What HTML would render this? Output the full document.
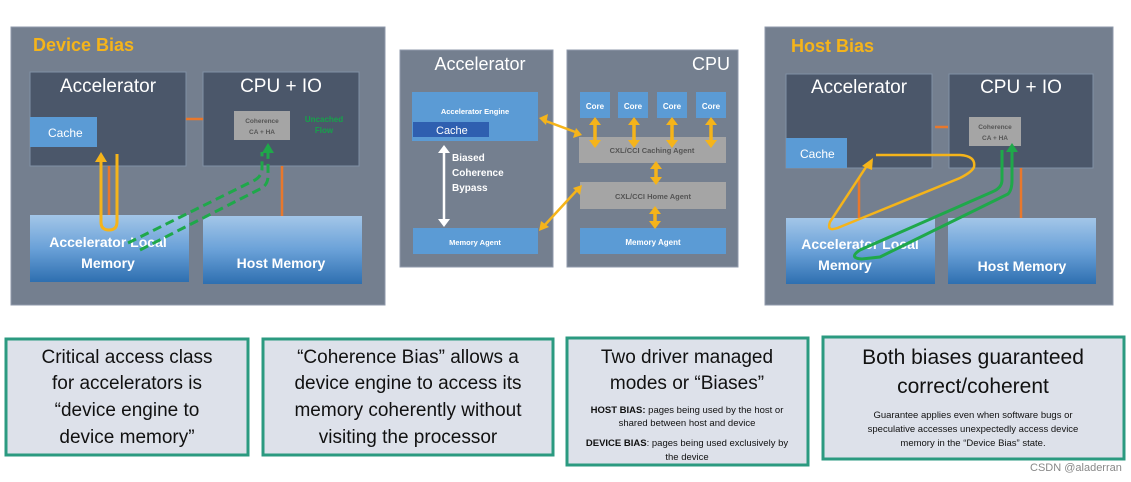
<!DOCTYPE html>
<html><head><meta charset="utf-8"><style>
html,body{margin:0;padding:0;background:#fff;}
svg{display:block;font-family:"Liberation Sans",sans-serif;}
</style></head><body>
<svg width="1131" height="482" viewBox="0 0 1131 482" xmlns="http://www.w3.org/2000/svg">
<defs>
<linearGradient id="mg" x1="0" y1="0" x2="0" y2="1">
<stop offset="0" stop-color="#a3c6e8"/><stop offset="0.5" stop-color="#6aa1d8"/><stop offset="1" stop-color="#2e6fb0"/>
</linearGradient>
</defs>
<rect width="1131" height="482" fill="#fff"/>

<!-- LEFT PANEL -->
<rect x="11" y="27" width="374" height="278" fill="#747f8f" stroke="#8f9aab"/>
<text x="33" y="51" fill="#f5b41a" font-size="18" font-weight="bold">Device Bias</text>
<rect x="30" y="72" width="156" height="94" fill="#4b576a" stroke="#8190a5"/>
<text x="108" y="92" fill="#fff" font-size="19" text-anchor="middle">Accelerator</text>
<rect x="30" y="117" width="67" height="30" fill="#5b9bd5"/>
<text x="48" y="137" fill="#fff" font-size="12">Cache</text>
<rect x="203" y="72" width="156" height="94" fill="#4b576a" stroke="#8190a5"/>
<text x="281" y="92" fill="#fff" font-size="19" text-anchor="middle">CPU + IO</text>
<rect x="234" y="111" width="56" height="29" fill="#a5a5a5"/>
<text x="262" y="123" fill="#555" font-size="6.5" text-anchor="middle" font-weight="bold">Coherence</text>
<text x="262" y="134" fill="#555" font-size="6.5" text-anchor="middle" font-weight="bold">CA + HA</text>
<text x="324" y="122" fill="#16a34a" font-size="8" text-anchor="middle" font-weight="bold">Uncached</text>
<text x="324" y="133" fill="#16a34a" font-size="8" text-anchor="middle" font-weight="bold">Flow</text>
<line x1="186" y1="119" x2="203" y2="119" stroke="#e8782c" stroke-width="2.5"/>
<line x1="109" y1="166" x2="109" y2="216" stroke="#e8782c" stroke-width="2.5"/>
<line x1="282" y1="166" x2="282" y2="217" stroke="#e8782c" stroke-width="2.5"/>
<rect x="30" y="215" width="159" height="67" fill="url(#mg)"/>
<text x="108" y="247" fill="#fff" font-size="14" font-weight="bold" text-anchor="middle">Accelerator Local</text>
<text x="108" y="268" fill="#fff" font-size="14" font-weight="bold" text-anchor="middle">Memory</text>
<rect x="203" y="216" width="159" height="68" fill="url(#mg)"/>
<text x="281" y="268" fill="#fff" font-size="14" font-weight="bold" text-anchor="middle">Host Memory</text>
<path d="M117 154 L117 222 Q117 230 109 230 Q101 230 101 222 L101 160" fill="none" stroke="#f5b41a" stroke-width="3"/>
<polygon points="95,162 107,162 101,152" fill="#f5b41a"/>
<path d="M128 243 L255 180 Q262 176 262 168 L262 152" fill="none" stroke="#1fa84a" stroke-width="3" stroke-dasharray="9,5"/>
<path d="M140 250 L262 188 Q268 184 268 176 L268 152" fill="none" stroke="#1fa84a" stroke-width="3" stroke-dasharray="9,5"/>
<polygon points="262,153 274,153 268,143" fill="#1fa84a"/>

<!-- MIDDLE -->
<rect x="400" y="50" width="153" height="217" fill="#747f8f" stroke="#8f9aab"/>
<text x="480" y="70" fill="#fff" font-size="18" text-anchor="middle">Accelerator</text>
<rect x="412" y="92" width="126" height="49" fill="#5b9bd5"/>
<text x="475" y="114" fill="#fff" font-size="7.5" font-weight="bold" text-anchor="middle">Accelerator Engine</text>
<rect x="413" y="122" width="76" height="15" fill="#2f5fb0"/>
<text x="436" y="134" fill="#fff" font-size="11">Cache</text>
<rect x="413" y="228" width="125" height="26" fill="#5b9bd5"/>
<text x="475" y="245" fill="#fff" font-size="7.5" font-weight="bold" text-anchor="middle">Memory Agent</text>
<line x1="444" y1="150" x2="444" y2="222" stroke="#fff" stroke-width="2.5"/>
<polygon points="438,153 450,153 444,145" fill="#fff"/>
<polygon points="438,219 450,219 444,227" fill="#fff"/>
<text x="452" y="161" fill="#fff" font-size="10" font-weight="bold">Biased</text>
<text x="452" y="176" fill="#fff" font-size="10" font-weight="bold">Coherence</text>
<text x="452" y="191" fill="#fff" font-size="10" font-weight="bold">Bypass</text>

<rect x="567" y="50" width="171" height="217" fill="#747f8f" stroke="#8f9aab"/>
<text x="730" y="70" fill="#fff" font-size="18" text-anchor="end">CPU</text>
<g fill="#5b9bd5"><rect x="580" y="92" width="30" height="26"/><rect x="618" y="92" width="30" height="26"/><rect x="657" y="92" width="30" height="26"/><rect x="696" y="92" width="30" height="26"/></g>
<g fill="#fff" font-size="8" font-weight="bold" text-anchor="middle"><text x="595" y="109">Core</text><text x="633" y="109">Core</text><text x="672" y="109">Core</text><text x="711" y="109">Core</text></g>
<rect x="579" y="137" width="147" height="26" fill="#a5a5a5"/>
<text x="652" y="153" fill="#555" font-size="7.5" font-weight="bold" text-anchor="middle">CXL/CCI Caching Agent</text>
<rect x="580" y="182" width="146" height="27" fill="#a5a5a5"/>
<text x="653" y="199" fill="#555" font-size="7.5" font-weight="bold" text-anchor="middle">CXL/CCI Home Agent</text>
<rect x="580" y="228" width="146" height="26" fill="#5b9bd5"/>
<text x="653" y="245" fill="#fff" font-size="8" font-weight="bold" text-anchor="middle">Memory Agent</text>
<g stroke="#f5b41a" stroke-width="3.5" fill="none">
<line x1="595" y1="122" x2="595" y2="143"/><line x1="634" y1="122" x2="634" y2="143"/><line x1="672" y1="122" x2="672" y2="143"/><line x1="711" y1="122" x2="711" y2="143"/>
<line x1="656" y1="165" x2="656" y2="181"/><line x1="655" y1="210" x2="655" y2="225"/>
</g>
<g stroke="#f5b41a" stroke-width="2.5" fill="none">
<line x1="543" y1="120" x2="578" y2="133"/><line x1="543" y1="227" x2="578" y2="189"/>
</g>
<g fill="#f5b41a">
<polygon points="589,125 601,125 595,117"/><polygon points="589,140 601,140 595,148"/>
<polygon points="628,125 640,125 634,117"/><polygon points="628,140 640,140 634,148"/>
<polygon points="666,125 678,125 672,117"/><polygon points="666,140 678,140 672,148"/>
<polygon points="705,125 717,125 711,117"/><polygon points="705,140 717,140 711,148"/>
<polygon points="650,169 662,169 656,161"/><polygon points="650,177 662,177 656,185"/>
<polygon points="649,214 661,214 655,206"/><polygon points="649,221 661,221 655,229"/>
<polygon points="539,118 548,114 546,125"/><polygon points="582,135 573,138 576,128"/>
<polygon points="539,231 541,221 549,227"/><polygon points="582,185 580,195 573,188"/>
</g>

<!-- RIGHT PANEL -->
<rect x="765" y="27" width="348" height="278" fill="#747f8f" stroke="#8f9aab"/>
<text x="791" y="52" fill="#f5b41a" font-size="18" font-weight="bold">Host Bias</text>
<rect x="786" y="74" width="146" height="94" fill="#4b576a" stroke="#8190a5"/>
<text x="859" y="93" fill="#fff" font-size="19" text-anchor="middle">Accelerator</text>
<rect x="786" y="138" width="61" height="30" fill="#5b9bd5"/>
<text x="800" y="158" fill="#fff" font-size="12">Cache</text>
<rect x="949" y="74" width="144" height="94" fill="#4b576a" stroke="#8190a5"/>
<text x="1021" y="93" fill="#fff" font-size="19" text-anchor="middle">CPU + IO</text>
<rect x="969" y="117" width="52" height="29" fill="#a5a5a5"/>
<text x="995" y="129" fill="#555" font-size="6.5" text-anchor="middle" font-weight="bold">Coherence</text>
<text x="995" y="140" fill="#555" font-size="6.5" text-anchor="middle" font-weight="bold">CA + HA</text>
<line x1="935" y1="127" x2="948" y2="127" stroke="#e8782c" stroke-width="2.5"/>
<line x1="859" y1="178" x2="859" y2="223" stroke="#e8782c" stroke-width="2.5"/>
<line x1="1021" y1="168" x2="1021" y2="218" stroke="#e8782c" stroke-width="2.5"/>
<rect x="786" y="218" width="149" height="66" fill="url(#mg)"/>
<text x="860" y="249" fill="#fff" font-size="14" font-weight="bold" text-anchor="middle">Accelerator Local</text>
<text x="845" y="270" fill="#fff" font-size="14" font-weight="bold" text-anchor="middle">Memory</text>
<rect x="948" y="218" width="148" height="66" fill="url(#mg)"/>
<text x="1022" y="271" fill="#fff" font-size="14" font-weight="bold" text-anchor="middle">Host Memory</text>
<path d="M876 155 L960 155 Q976 156 974 167 Q972 172 960 178 L840 227 Q826 233 830 222 L868 164" fill="none" stroke="#f5b41a" stroke-width="2.5"/>
<polygon points="862,166 872,170 873,158" fill="#f5b41a"/>
<path d="M1002 150 L1002 180 Q1002 188 992 192 L860 250 Q848 258 862 259 L880 257 L1008 194 Q1012 190 1012 180 L1012 150" fill="none" stroke="#1fa84a" stroke-width="3"/>
<polygon points="1006,152 1018,152 1012,143" fill="#1fa84a"/>

<!-- BOTTOM BOXES -->
<g fill="#dde1ea" stroke="#2b9a80" stroke-width="3">
<rect x="6" y="339" width="242" height="116"/>
<rect x="263" y="339" width="290" height="116"/>
<rect x="567" y="338" width="241" height="127"/>
<rect x="823" y="337" width="301" height="122"/>
</g>
<g fill="#111" font-size="19" text-anchor="middle">
<text x="127" y="363">Critical access class</text>
<text x="127" y="389">for accelerators is</text>
<text x="127" y="416">“device engine to</text>
<text x="127" y="443">device memory”</text>
<text x="408" y="363">“Coherence Bias” allows a</text>
<text x="408" y="389">device engine to access its</text>
<text x="408" y="416">memory coherently without</text>
<text x="408" y="443">visiting the processor</text>
<text x="687" y="363">Two driver managed</text>
<text x="687" y="389">modes or “Biases”</text>
<text x="973" y="364" font-size="21">Both biases guaranteed</text>
<text x="973" y="393" font-size="21">correct/coherent</text>
</g>
<g fill="#111" font-size="9.5" text-anchor="middle">
<text x="687" y="413"><tspan font-weight="bold">HOST BIAS:</tspan> pages being used  by the host or</text>
<text x="687" y="426">shared between host and device</text>
<text x="687" y="446"><tspan font-weight="bold">DEVICE BIAS</tspan>: pages being used exclusively by</text>
<text x="687" y="460">the device</text>
<text x="973" y="418">Guarantee applies even when software bugs or</text>
<text x="973" y="432">speculative accesses unexpectedly access device</text>
<text x="973" y="446">memory in the “Device Bias” state.</text>
</g>
<text x="1030" y="471" fill="#888" font-size="11">CSDN @aladerran</text>
</svg>
</body></html>
